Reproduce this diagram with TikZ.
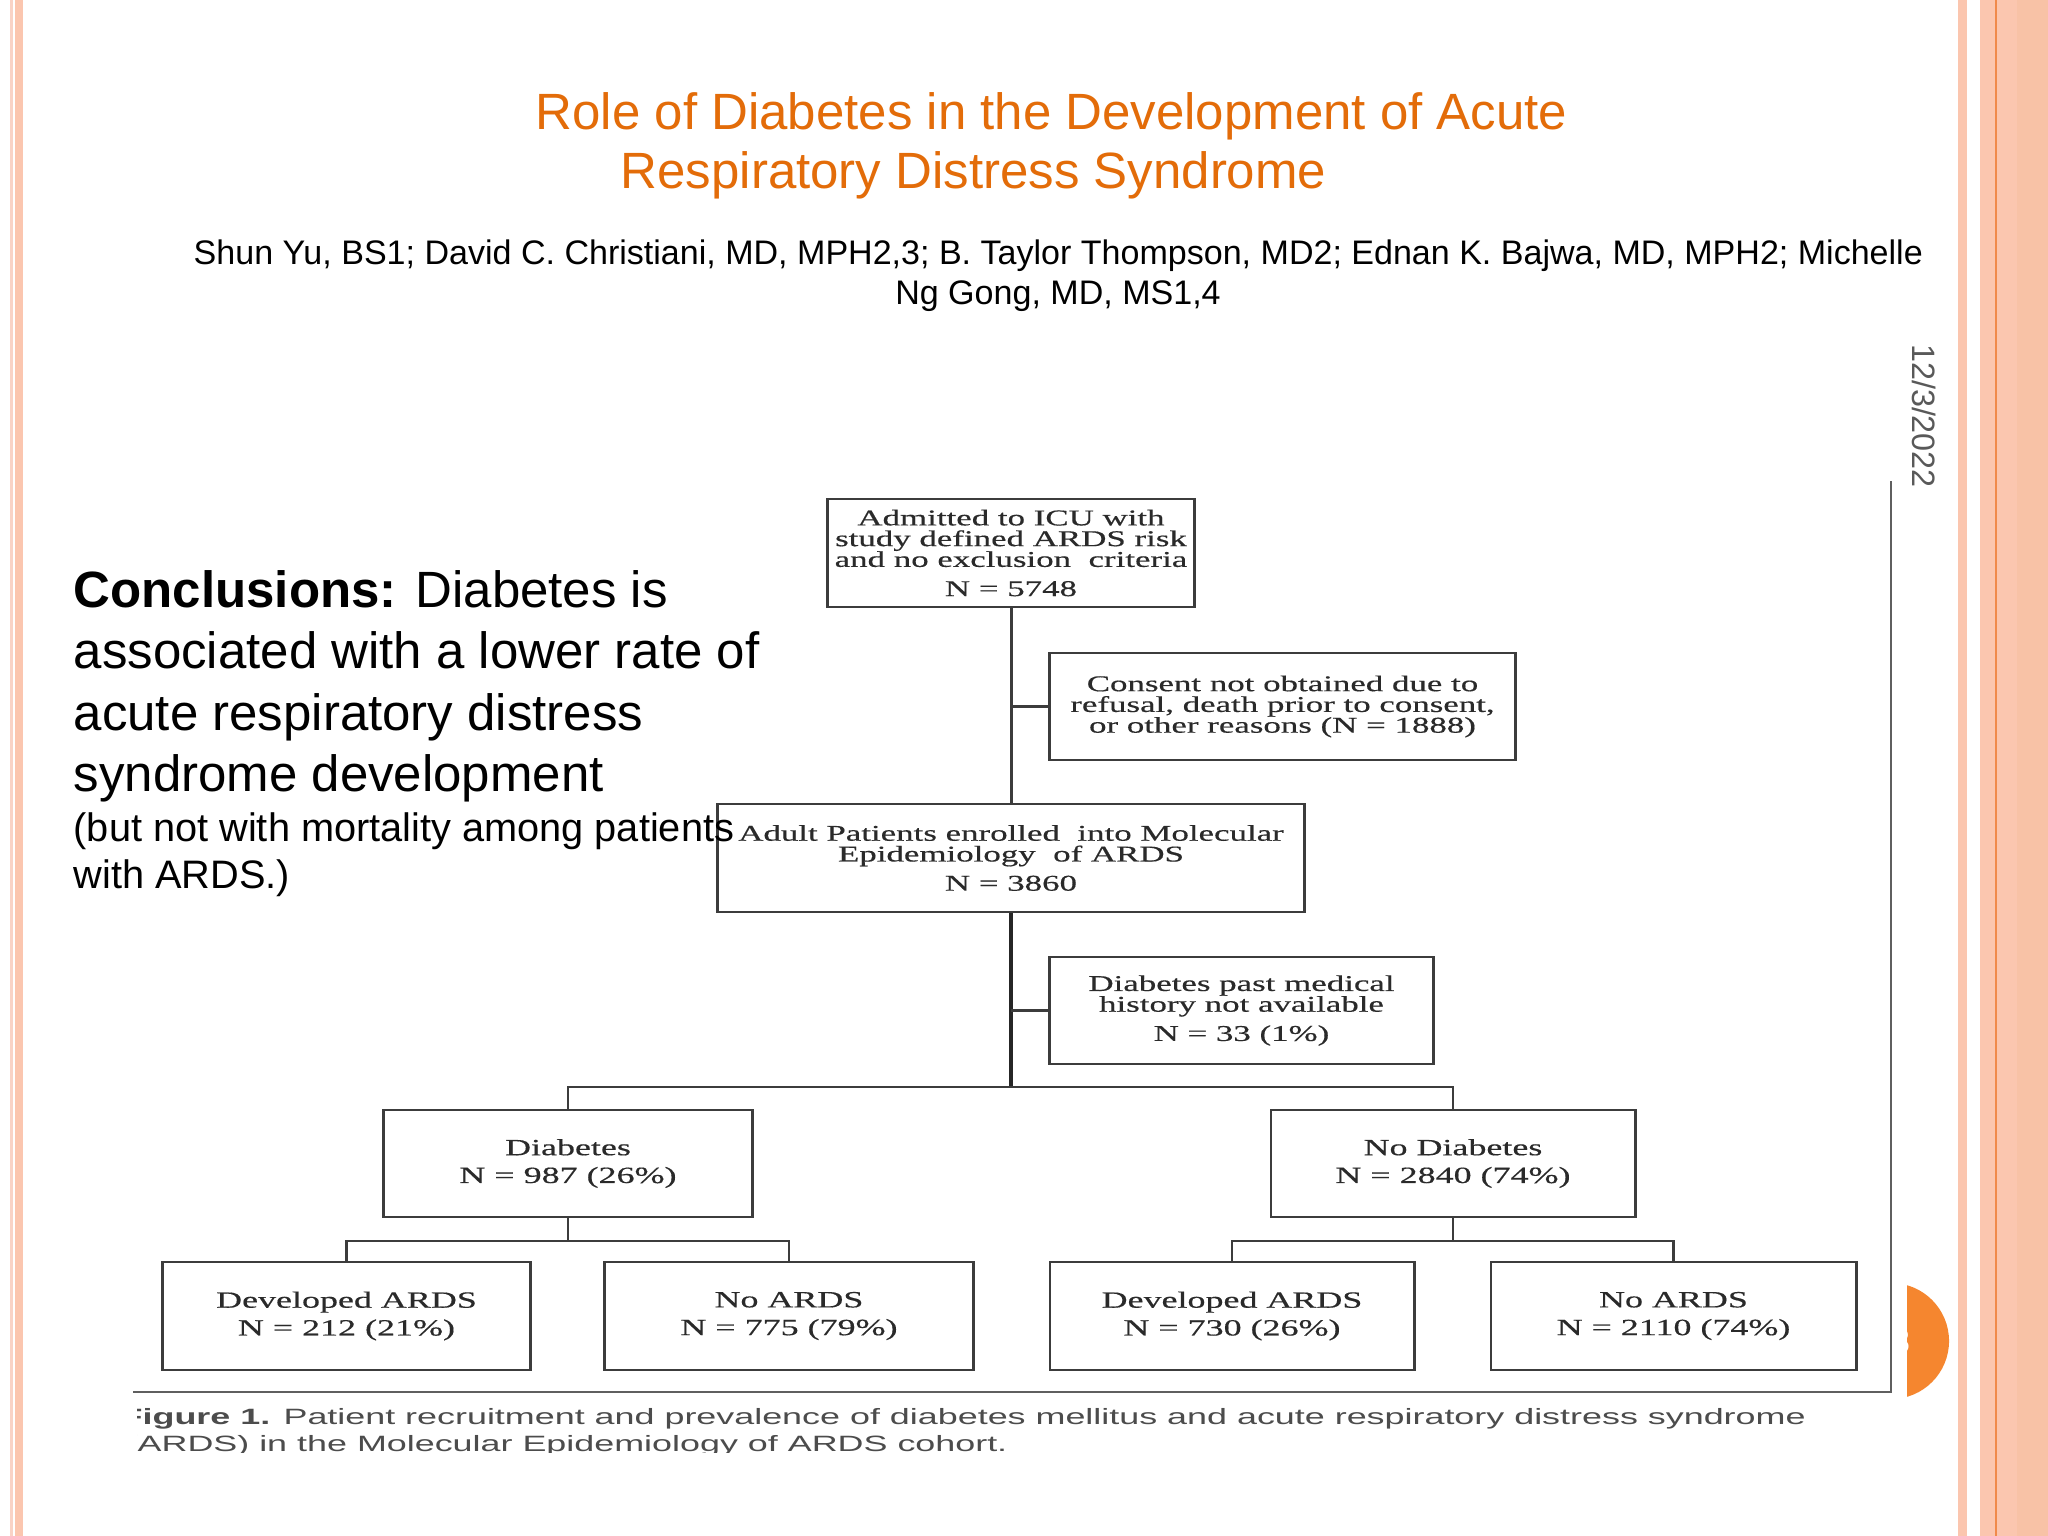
\documentclass[tikz,border=0pt]{standalone}
\usepackage{fontspec}
\setmainfont{Liberation Sans}
\newfontfamily\figserif[FakeStretch=1.55,FakeBold=0.45]{Liberation Serif}
\newfontfamily\figsans[FakeStretch=1.62]{Liberation Sans}
\definecolor{titleorange}{HTML}{E36C09}
\definecolor{stripe}{HTML}{FBC6AF}
\definecolor{stripedark}{HTML}{F8C2A6}
\definecolor{stripelight}{HTML}{F9D3C6}
\definecolor{stripeline}{HTML}{F08A4B}
\definecolor{boxline}{HTML}{3C3C3C}
\definecolor{boxtext}{HTML}{2A2A2A}
\definecolor{captext}{HTML}{4C4C4C}
\definecolor{framegray}{HTML}{5F5F5F}
\definecolor{dategray}{HTML}{595959}
\definecolor{dotorange}{HTML}{F5862F}
\begin{document}
\begin{tikzpicture}[x=0.01cm,y=-0.01cm,
  fbox/.style={draw=boxline,line width=0.8pt,inner sep=0pt,align=center,
    font=\figserif\fontsize{6.4pt}{5.9pt}\selectfont,text=boxtext},
  fboxb/.style={fbox,font=\figserif\fontsize{6.6pt}{7.9pt}\selectfont},
  link/.style={draw=boxline,line width=0.6pt},
  trunk/.style={draw=boxline,line width=0.85pt},
  trunkb/.style={draw=black!85,line width=1.2pt},
  frameline/.style={draw=framegray,line width=0.55pt},
  bigtext/.style={anchor=base west,font=\fontsize{14.5pt}{17pt}\selectfont,text=black},
  smalltext/.style={anchor=base west,font=\fontsize{11.3pt}{13.4pt}\selectfont,text=black},
  captxt/.style={anchor=base west,font=\figsans\fontsize{6.3pt}{7pt}\selectfont,text=captext}
]
\useasboundingbox (0,0) rectangle (2048,1536);
\fill[white] (0,0) rectangle (2048,1536);
% slide borders
\fill[stripelight] (10,0) rectangle (13,1536);
\fill[stripe] (15,0) rectangle (23,1536);
\fill[stripe] (1958,0) rectangle (1967,1536);
\fill[stripe] (1980,0) rectangle (2048,1536);
\fill[stripedark] (2017,0) rectangle (2048,1536);
\draw[stripeline,line width=0.4pt] (1996,0) -- (1996,1536);
% orange page dot
\begin{scope}
  \clip (1907,1270) rectangle (1960,1410);
  \fill[dotorange] (1891,1341) circle[radius=0.58cm];
  \node[anchor=east,text=white,font=\bfseries\fontsize{10pt}{12pt}\selectfont,inner sep=0pt] (pnum) at (1911,1341) {8};
\end{scope}
% title
\node[anchor=base west,font=\fontsize{14.5pt}{17pt}\selectfont,text=titleorange,inner sep=0pt] (t1) at (535,129) {Role of Diabetes in the Development of Acute};
\node[anchor=base west,font=\fontsize{14.5pt}{17pt}\selectfont,text=titleorange,inner sep=0pt] (t2) at (620,188) {Respiratory Distress Syndrome};
% authors
\node[anchor=base west,font=\fontsize{9.68pt}{11pt}\selectfont,text=black,inner sep=0pt] (au1) at (193,264) {Shun Yu, BS1; David C. Christiani, MD, MPH2,3; B. Taylor Thompson, MD2; Ednan K. Bajwa, MD, MPH2; Michelle};
\node[anchor=base,font=\fontsize{9.68pt}{11pt}\selectfont,text=black,inner sep=0pt] (au2) at (1058,304) {Ng Gong, MD, MS1,4};
% date
\node[rotate=-90,font=\fontsize{9.2pt}{11pt}\selectfont,text=dategray,inner sep=0pt] (date) at (1924,416) {12/3/2022};
% figure frame
\draw[frameline] (1891,481) -- (1891,1392) -- (133,1392);
% boxes
\node[fbox,minimum width=3.67cm,minimum height=1.08cm] (b1) at (1011,553)
  {Admitted to ICU with\\study defined ARDS risk\\and no exclusion\ \ criteria\\[2.4pt]N = 5748};
\node[fbox,minimum width=4.65cm,minimum height=1.07cm] (b2) at (1282.5,706.5)
  {Consent not obtained due to\\refusal, death prior to consent,\\or other reasons (N = 1888)};
\node[fbox,minimum width=5.86cm,minimum height=1.08cm] (b3) at (1011,858)
  {Adult Patients enrolled\ \ into Molecular\\Epidemiology\ \ of ARDS\\[2.4pt]N = 3860};
\node[fbox,minimum width=3.83cm,minimum height=1.07cm] (b4) at (1241.5,1010.5)
  {Diabetes past medical\\history not available\\[2.4pt]N = 33 (1\%)};
\node[fboxb,minimum width=3.68cm,minimum height=1.07cm] (b5) at (568,1163.5)
  {Diabetes\\N = 987 (26\%)};
\node[fboxb,minimum width=3.64cm,minimum height=1.07cm] (b6) at (1453,1163.5)
  {No Diabetes\\N = 2840 (74\%)};
\node[fboxb,minimum width=3.67cm,minimum height=1.08cm] (b7) at (346.5,1316)
  {Developed ARDS\\N = 212 (21\%)};
\node[fboxb,minimum width=3.68cm,minimum height=1.08cm] (b8) at (789,1316)
  {No ARDS\\N = 775 (79\%)};
\node[fboxb,minimum width=3.64cm,minimum height=1.08cm] (b9) at (1232,1316)
  {Developed ARDS\\N = 730 (26\%)};
\node[fboxb,minimum width=3.65cm,minimum height=1.08cm] (b10) at (1673.5,1316)
  {No ARDS\\N = 2110 (74\%)};
% connectors
\coordinate (j1) at (1011,1087);
\coordinate (j2) at (568,1241);
\coordinate (j3) at (1453,1241);
\draw[trunk] (b1.south) -- (b3.north);
\draw[link] (b1.south |- b2.west) -- (b2.west);
\draw[trunkb] (b3.south) -- (j1);
\draw[link] (j1 |- b4.west) -- (b4.west);
\draw[link] (b5.north) |- (j1) -| (b6.north);
\draw[link] (b5.south) -- (j2);
\draw[link] (b7.north) |- (j2) -| (b8.north);
\draw[link] (b6.south) -- (j3);
\draw[link] (b9.north) |- (j3) -| (b10.north);
% caption (clipped like the source image)
\begin{scope}
  \clip (137,1396) rectangle (1900,1452);
  \node[captxt,inner sep=0pt] (cap1) at (120,1424) {\textbf{Figure 1.} Patient recruitment and prevalence of diabetes mellitus and acute respiratory distress syndrome};
  \node[captxt,inner sep=0pt] (cap2) at (125,1451) {(ARDS) in the Molecular Epidemiology of ARDS cohort.};
\end{scope}
% conclusions
\node[bigtext,inner sep=0pt] (c1) at (73,607) {\textbf{Conclusions:} Diabetes is};
\node[bigtext,inner sep=0pt] (c2) at (73,668) {associated with a lower rate of};
\node[bigtext,inner sep=0pt] (c3) at (73,730) {acute respiratory distress};
\node[bigtext,inner sep=0pt] (c4) at (73,791) {syndrome development};
\node[smalltext,inner sep=0pt] (c5) at (73,841) {(but not with mortality among patients};
\node[smalltext,inner sep=0pt] (c6) at (73,888) {with ARDS.)};
\end{tikzpicture}
\end{document}
